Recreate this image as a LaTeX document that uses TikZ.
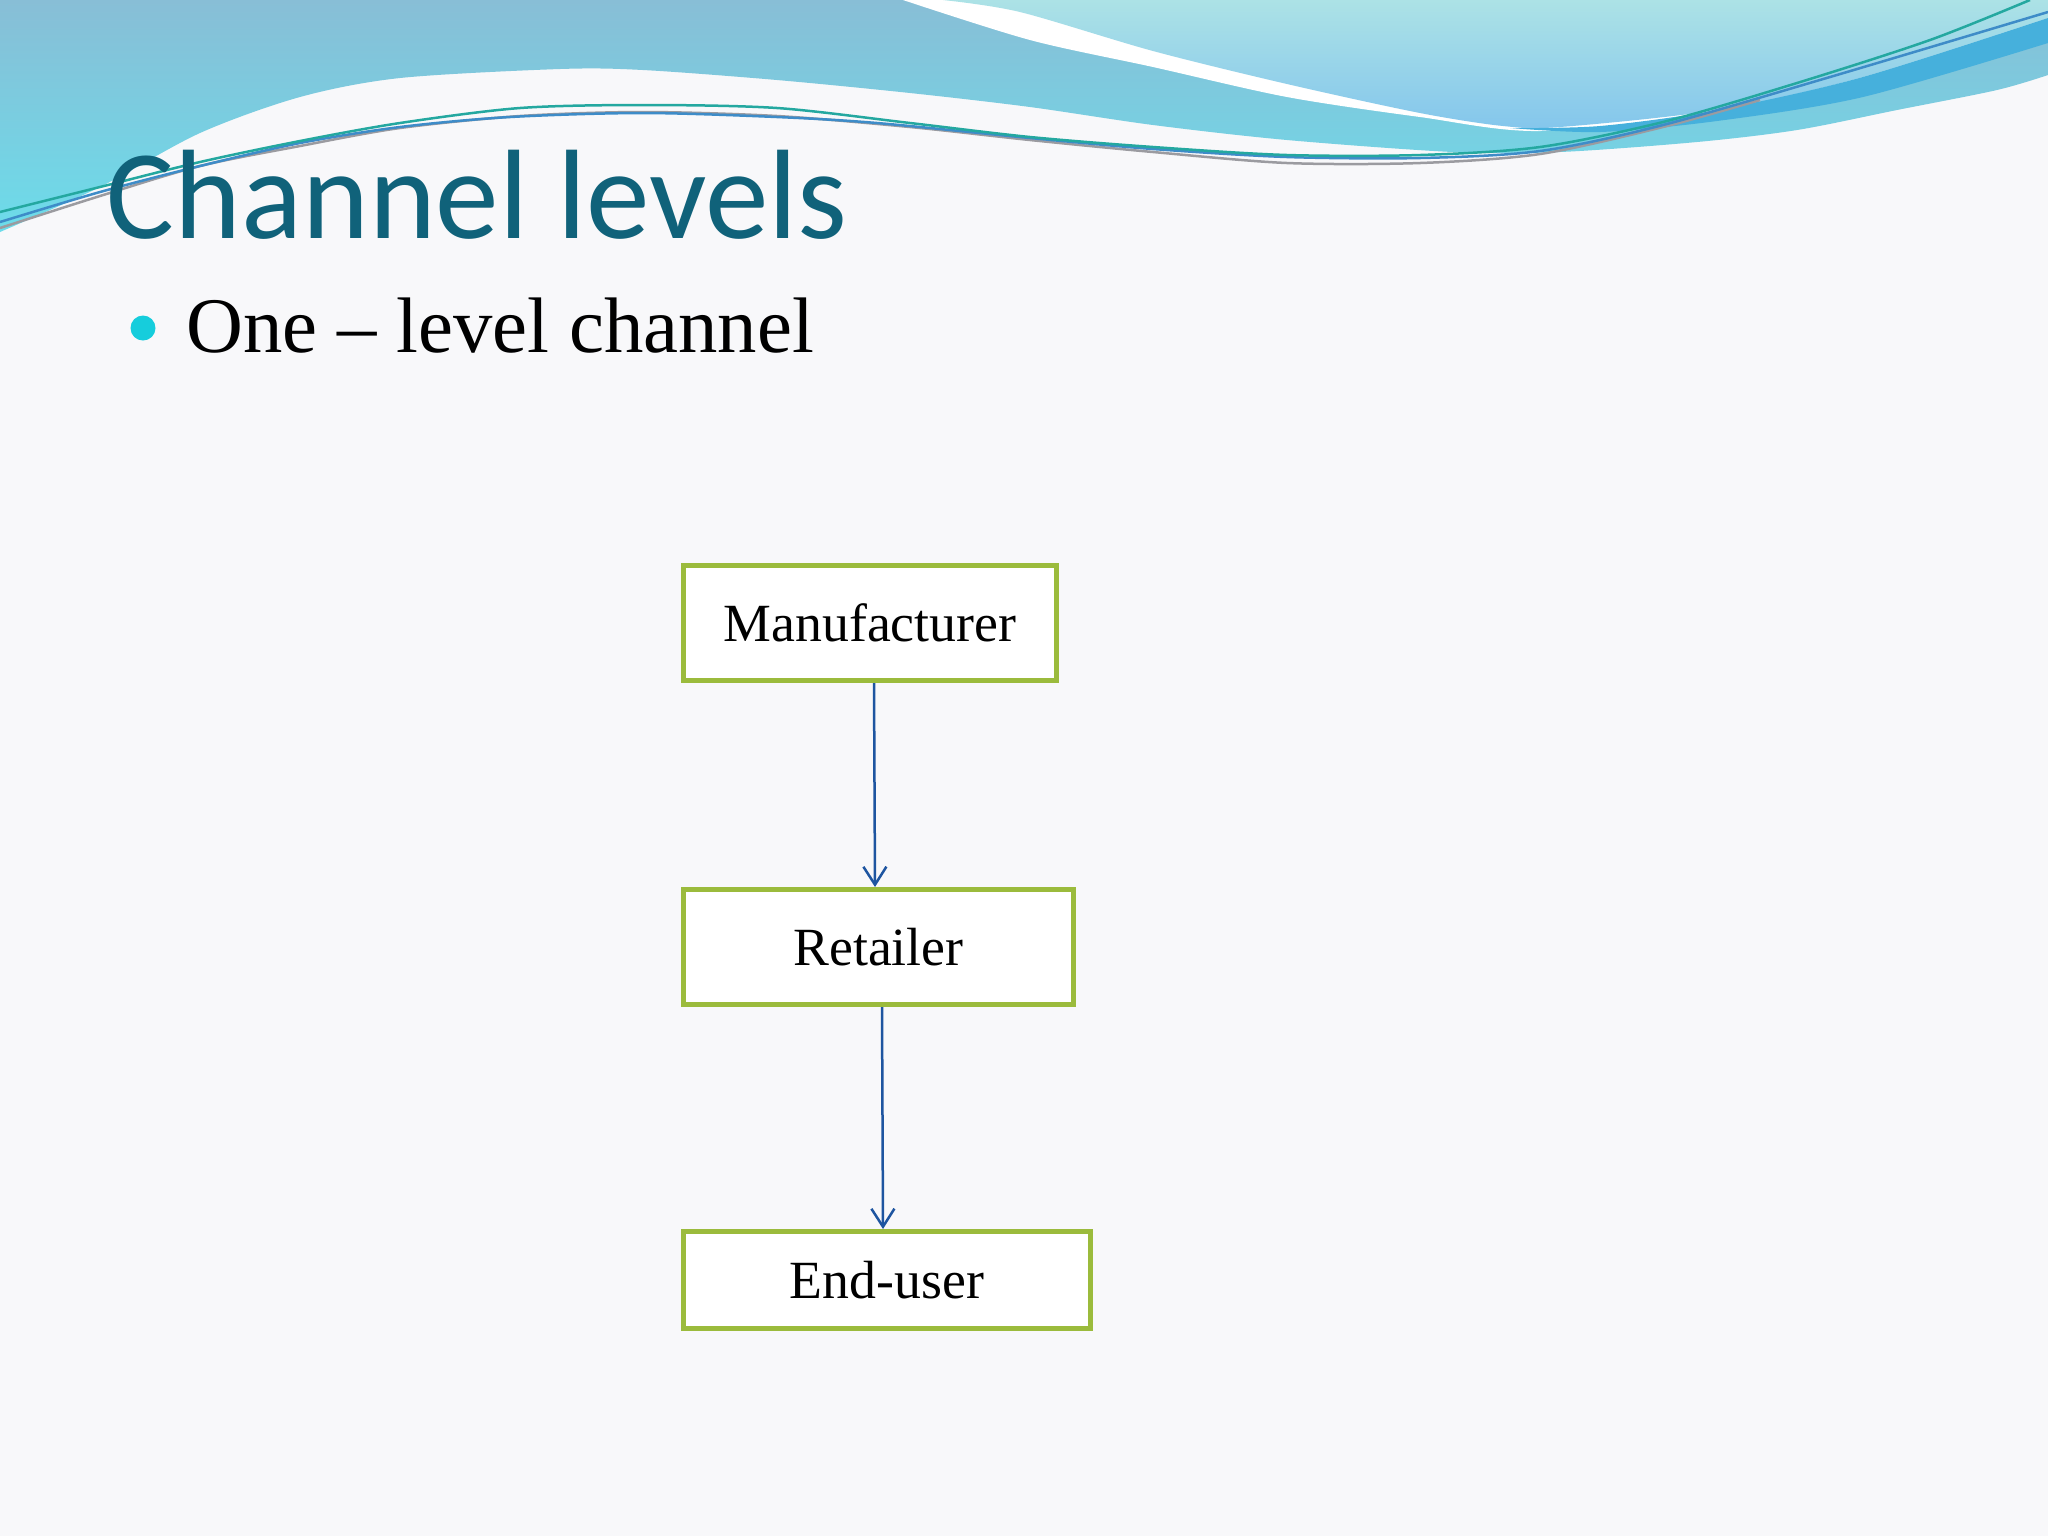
\documentclass[tikz,border=0pt]{standalone}
\usepackage{fontspec}
\setmainfont{Liberation Serif}
\newfontfamily\titlefont{Carlito}
\usetikzlibrary{arrows.meta,positioning,calc}
\definecolor{lvtitle}{RGB}{16,98,122}
\definecolor{lvgreen}{RGB}{155,187,60}
\definecolor{lvarrow}{RGB}{30,85,160}
\definecolor{lvbullet}{RGB}{22,205,220}
\definecolor{lvpaper}{RGB}{248,248,250}
\definecolor{lvbandtop}{RGB}{136,190,214}
\definecolor{lvbandbot}{RGB}{108,220,234}
\definecolor{lvaquatop}{RGB}{172,226,230}
\definecolor{lvaquabot}{RGB}{132,198,236}
\definecolor{lvstrip}{RGB}{70,176,220}
\definecolor{lvline}{RGB}{36,168,160}
\definecolor{lvlineb}{RGB}{62,140,200}
\definecolor{lvlineg}{RGB}{155,155,160}
\tikzset{
  lvl/.style={x=0.1mm, y=-0.1mm},
  c box/.style={draw=lvgreen, line width=0.5mm, fill=white, minimum height=11.5mm, inner sep=0pt,
                font=\fontsize{15.3}{18}\selectfont},
  c arr/.style={draw=lvarrow, line width=0.25mm, -{Straight Barb[length=1.8mm, width=2.3mm]}},
  c wave/.style={line width=0.25mm},
  c title/.style={anchor=base west, inner sep=0pt, text=lvtitle, font=\titlefont\fontsize{36.2}{40}\selectfont},
  c item/.style={anchor=base west, inner sep=0pt, font=\fontsize{22.4}{26}\selectfont},
}

\begin{document}
\begin{tikzpicture}[lvl]
\useasboundingbox (0,0) rectangle (2048,1536);
\fill[lvpaper] (0,0) rectangle (2048,1536);
% ---- top waves ----
\shade[top color=lvbandtop, bottom color=lvbandbot] (0,0) -- (2048,0) -- (2048,75)
  -- plot[smooth] coordinates {(2048,75) (1997,90) (1897,110) (1797,130) (1697,142) (1560,152) (1453,152)
     (1287,140) (1153,125) (1030,107) (910,93) (777,80) (643,70) (560,69) (400,78) (300,97) (200,133) (100,187) (0,232)}
  -- cycle;
\fill[white] (903,0) -- (2048,0) -- (2048,18)
  -- plot[smooth] coordinates {(2048,18) (1863,77) (1717,112) (1540,131) (1420,117) (1287,97) (1153,67) (1030,40) (903,0)}
  -- cycle;
\shade[top color=lvaquatop, bottom color=lvaquabot] (943,0) -- (2048,0) -- (2048,18)
  -- plot[smooth] coordinates {(2048,18) (1863,77) (1717,110) (1560,127) (1503,126) (1420,113) (1287,84) (1153,51) (1020,12) (943,0)}
  -- cycle;
\fill[lvstrip] plot[smooth] coordinates {(1510,128) (1600,126) (1717,110) (1863,77) (2048,18)}
  -- (2048,43) -- plot[smooth] coordinates {(2048,43) (1863,97) (1717,121) (1600,132) (1510,128)} -- cycle;
\draw[c wave, lvlineg] plot[smooth] coordinates {(0,228) (100,196) (200,166) (300,146) (400,128) (520,116)
  (643,112) (777,116) (910,127) (1030,140) (1153,152) (1287,163) (1420,163) (1540,154) (1663,127) (1760,100)};
\draw[c wave, lvlineb] plot[smooth] coordinates {(0,222) (100,192) (200,166) (300,143) (400,127) (510,117)
  (643,113) (777,117) (877,123) (1030,138) (1153,149) (1287,157) (1420,158) (1540,151) (1663,125) (1830,77) (2048,12)};
\draw[c wave, lvline] plot[smooth] coordinates {(0,212) (100,187) (200,162) (300,141) (400,123) (520,108)
  (643,105) (777,108) (910,123) (1030,137) (1153,147) (1287,155) (1420,155) (1540,147) (1663,122) (1797,83) (1930,40) (2030,0)};
% ---- title and bullet ----
\node[c title] (title) at (106,238) {Channel levels};
\fill[lvbullet] (143,328) circle (12.5);
\node[c item] (item) at (186,352) {One – level channel};
% ---- channel boxes ----
\node[c box, minimum width=37.3mm] (mfr) at (870,623) {Manufacturer};
\node[c box, minimum width=39.0mm] (ret) at (878.5,947) {Retailer};
\node[c box, minimum width=40.7mm, minimum height=9.7mm] (end) at (887,1280) {End-user};
\draw[c arr] ([xshift=0.4mm]mfr.south) -- ([xshift=-0.35mm]ret.north);
\draw[c arr] ([xshift=0.35mm]ret.south) -- ([xshift=-0.4mm]end.north);
\end{tikzpicture}
\end{document}
